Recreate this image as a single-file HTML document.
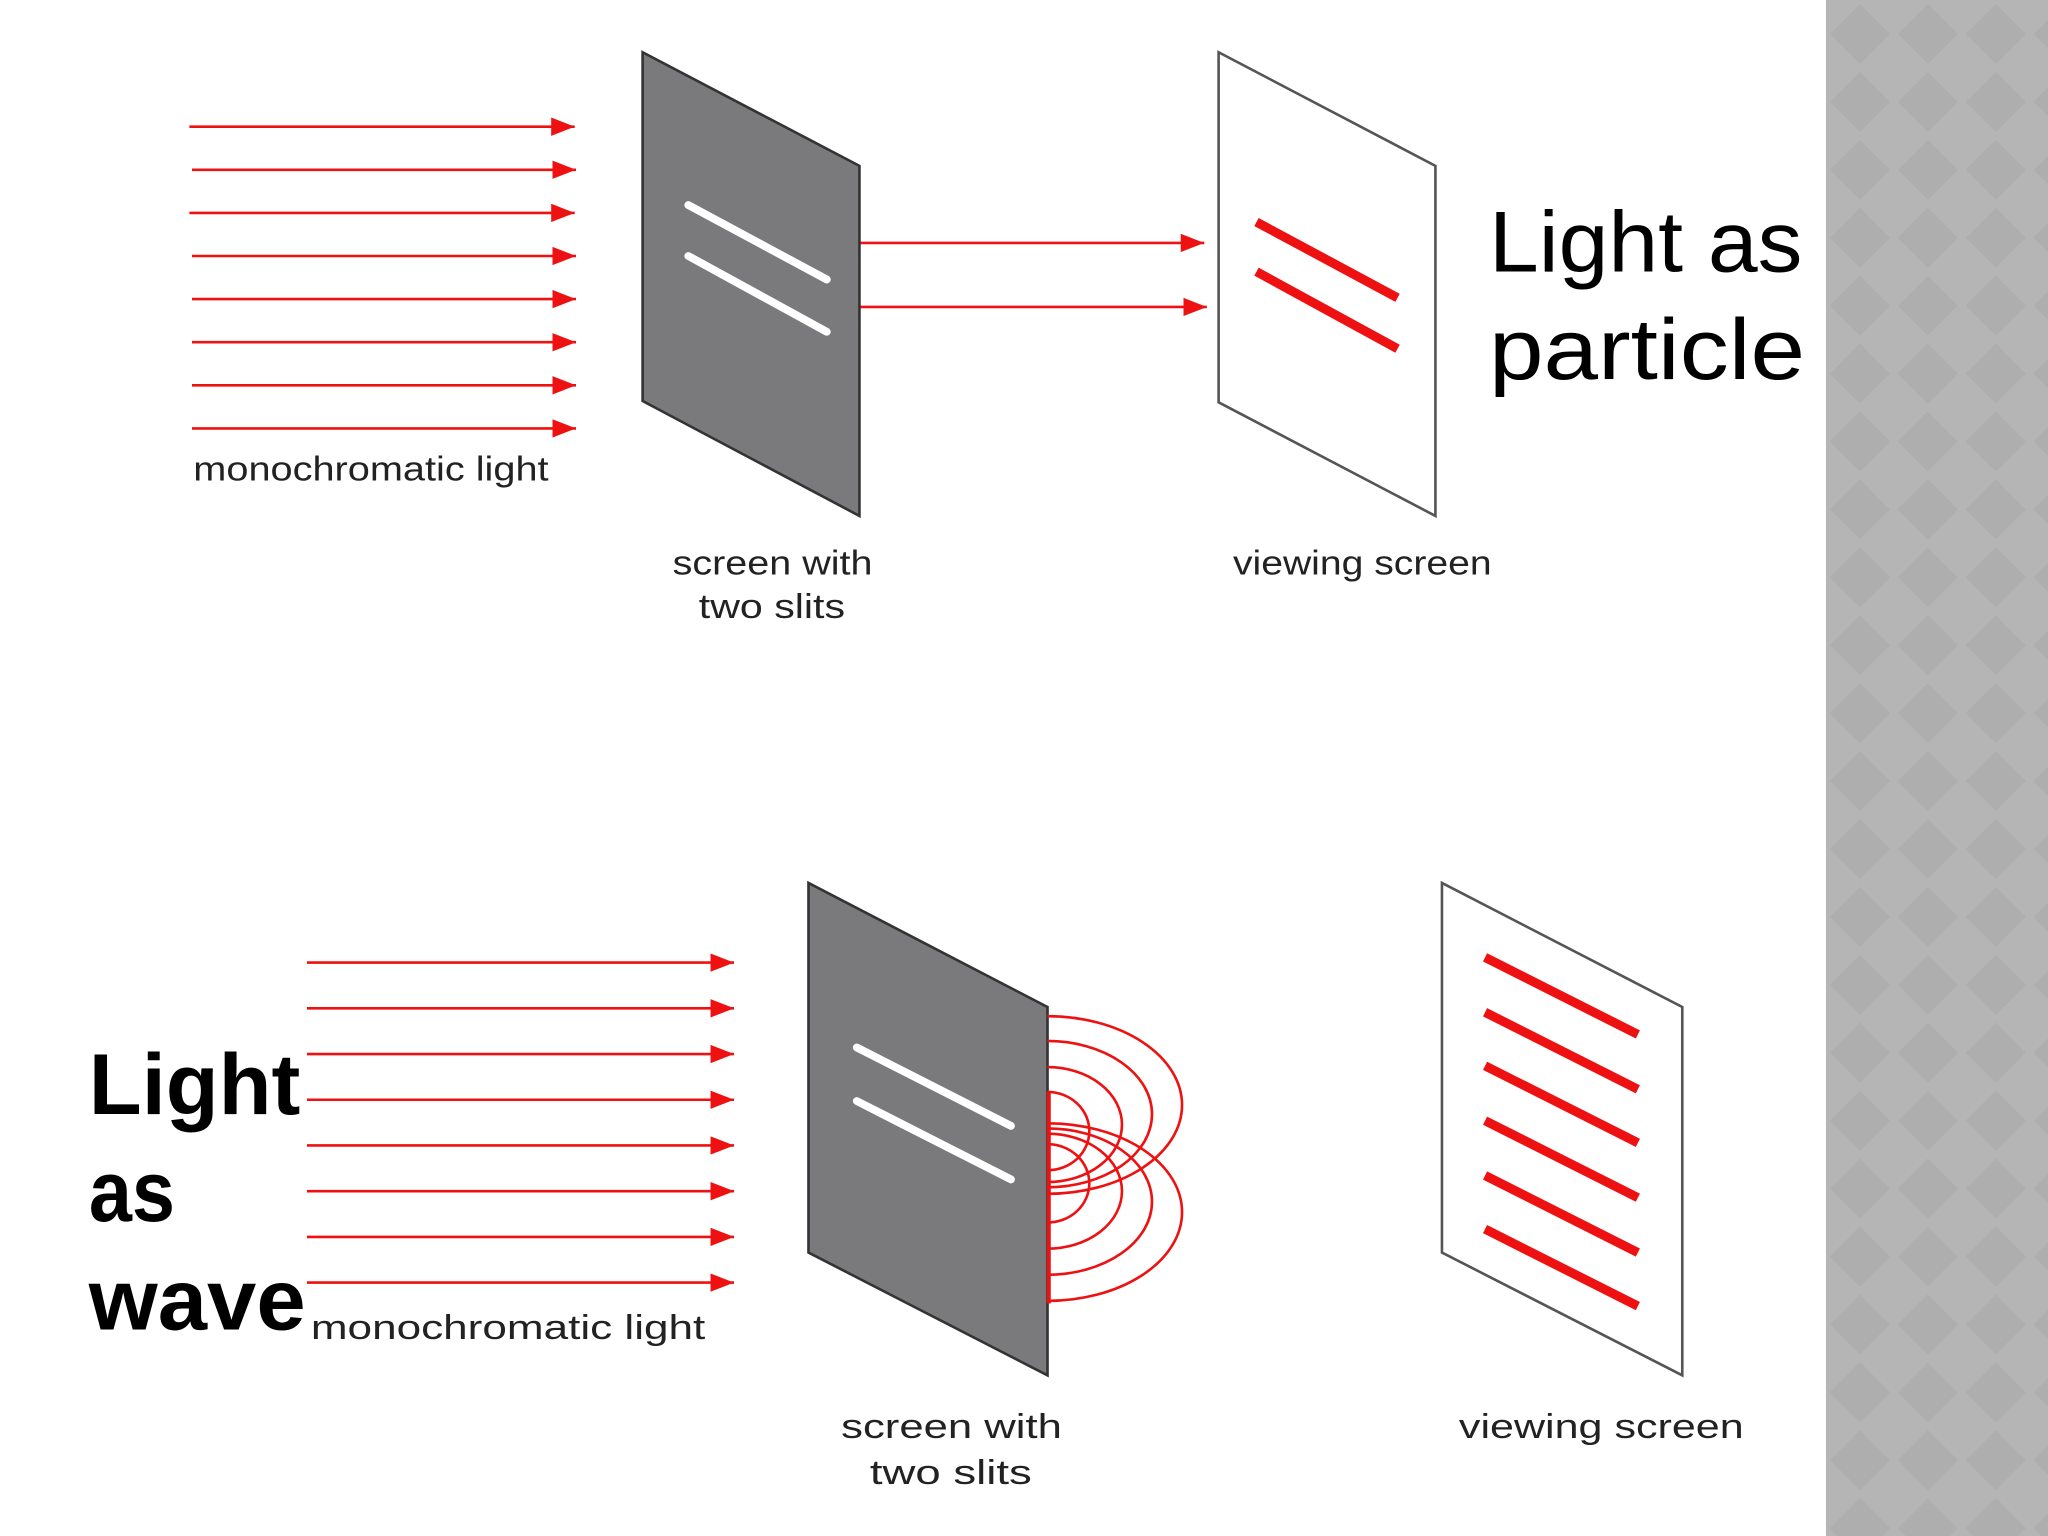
<!DOCTYPE html>
<html><head><meta charset="utf-8"><style>
html,body{margin:0;padding:0;background:#fff;}
svg{display:block;}
</style></head><body>
<svg width="2048" height="1536" viewBox="0 0 1568 1176" xmlns="http://www.w3.org/2000/svg">
<defs>
<pattern id="dia" width="52" height="52" patternUnits="userSpaceOnUse" x="1398" y="0">
<rect width="52" height="52" fill="#b5b5b5"/>
<polygon points="26,3 49,26 26,49 3,26" fill="#aeaeae"/>
</pattern>
<marker id="ah2" markerWidth="18" markerHeight="14" refX="18" refY="7" orient="auto" markerUnits="userSpaceOnUse">
<polygon points="0,0 18,7 0,14" fill="#ee1111"/>
</marker>
</defs>
<rect x="0" y="0" width="1568" height="1176" fill="#fff"/>
<rect x="1398" y="0" width="170" height="1176" fill="url(#dia)"/>

<g stroke="#ee1111" stroke-width="2" marker-end="url(#ah2)">
<line x1="145" y1="97" x2="440" y2="97"/>
<line x1="147" y1="130" x2="441" y2="130"/>
<line x1="145" y1="163" x2="440" y2="163"/>
<line x1="147" y1="196" x2="441" y2="196"/>
<line x1="147" y1="229" x2="441" y2="229"/>
<line x1="147" y1="262" x2="441" y2="262"/>
<line x1="147" y1="295" x2="441" y2="295"/>
<line x1="147" y1="328" x2="441" y2="328"/>
<line x1="658" y1="186" x2="922" y2="186"/>
<line x1="658" y1="235" x2="924" y2="235"/>
</g>
<polygon points="492,40 658,127 658,395 492,307" fill="#7a7a7c" stroke="#333" stroke-width="2"/>
<g stroke="#fff" stroke-width="6" stroke-linecap="round">
<line x1="527" y1="157" x2="633" y2="214"/>
<line x1="527" y1="196" x2="633" y2="254"/>
</g>
<polygon points="933,40 1099,127 1099,395 933,308" fill="#fff" stroke="#555" stroke-width="2"/>
<g stroke="#ee1111" stroke-width="7">
<line x1="962" y1="170" x2="1070" y2="228"/>
<line x1="962" y1="208" x2="1070" y2="267"/>
</g>

<g font-family="'Liberation Sans',sans-serif" font-size="26" fill="#222">
<text x="148" y="368" textLength="272" lengthAdjust="spacingAndGlyphs">monochromatic light</text>
<text x="515" y="440" textLength="153" lengthAdjust="spacingAndGlyphs">screen with</text>
<text x="535" y="473" textLength="112" lengthAdjust="spacingAndGlyphs">two slits</text>
<text x="944" y="440" textLength="198" lengthAdjust="spacingAndGlyphs">viewing screen</text>
<text x="238" y="1025" textLength="302" lengthAdjust="spacingAndGlyphs">monochromatic light</text>
<text x="644" y="1101" textLength="169" lengthAdjust="spacingAndGlyphs">screen with</text>
<text x="666" y="1136" textLength="124" lengthAdjust="spacingAndGlyphs">two slits</text>
<text x="1117" y="1101" textLength="218" lengthAdjust="spacingAndGlyphs">viewing screen</text>
</g>
<g font-family="'Liberation Sans',sans-serif" font-size="66" fill="#000">
<text x="1140" y="208" textLength="240" lengthAdjust="spacingAndGlyphs">Light as</text>
<text x="1140" y="290" textLength="242" lengthAdjust="spacingAndGlyphs">particle</text>
</g>
<g font-family="'Liberation Sans',sans-serif" font-size="66" font-weight="bold" fill="#000">
<text x="68" y="853" textLength="162" lengthAdjust="spacingAndGlyphs">Light</text>
<text x="68" y="935" textLength="66" lengthAdjust="spacingAndGlyphs">as</text>
<text x="68" y="1018" textLength="166" lengthAdjust="spacingAndGlyphs">wave</text>
</g>

<g stroke="#ee1111" stroke-width="2" marker-end="url(#ah2)">
<line x1="235" y1="737" x2="562" y2="737"/>
<line x1="235" y1="772" x2="562" y2="772"/>
<line x1="235" y1="807" x2="562" y2="807"/>
<line x1="235" y1="842" x2="562" y2="842"/>
<line x1="235" y1="877" x2="562" y2="877"/>
<line x1="235" y1="912" x2="562" y2="912"/>
<line x1="235" y1="947" x2="562" y2="947"/>
<line x1="235" y1="982" x2="562" y2="982"/>
</g>
<polygon points="619,676 802,771 802,1053 619,959" fill="#7a7a7c" stroke="#333" stroke-width="2"/>
<g stroke="#fff" stroke-width="6" stroke-linecap="round">
<line x1="656" y1="802" x2="774" y2="862"/>
<line x1="656" y1="843" x2="774" y2="903"/>
</g>
<g fill="none" stroke="#ee1111" stroke-width="2">
<path d="M802,778 A103,68 0 0 1 802,914"/>
<path d="M802,797 A80,56 0 0 1 802,909"/>
<path d="M802,817 A57,44 0 0 1 802,905"/>
<path d="M802,836 A32,30 0 0 1 802,896"/>
<path d="M802,860 A103,68 0 0 1 802,996"/>
<path d="M802,864 A80,56 0 0 1 802,976"/>
<path d="M802,868 A57,44 0 0 1 802,956"/>
<path d="M802,876 A32,30 0 0 1 802,936"/>
</g>
<line x1="803" y1="836" x2="803" y2="998" stroke="#ee1111" stroke-width="3"/>
<polygon points="1104,676 1288,771 1288,1053 1104,959" fill="#fff" stroke="#555" stroke-width="2"/>
<g stroke="#ee1111" stroke-width="7">
<line x1="1137" y1="733" x2="1254" y2="792"/>
<line x1="1137" y1="775" x2="1254" y2="834"/>
<line x1="1137" y1="816" x2="1254" y2="875"/>
<line x1="1137" y1="858" x2="1254" y2="917"/>
<line x1="1137" y1="900" x2="1254" y2="959"/>
<line x1="1137" y1="941" x2="1254" y2="1000"/>
</g>
</svg>
</body></html>
